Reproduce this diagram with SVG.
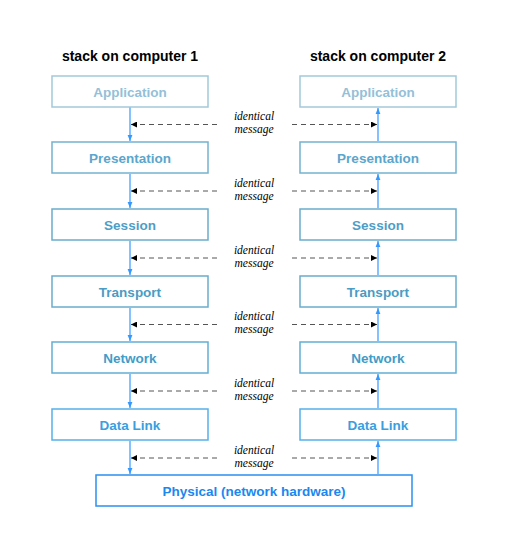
<svg xmlns="http://www.w3.org/2000/svg" width="508" height="558" viewBox="0 0 508 558">
<defs>
<style>
.title{font-family:"Liberation Sans",Arial,sans-serif;font-weight:bold;font-size:14px;fill:#000;text-anchor:middle}
.lbl{font-family:"Liberation Sans",Arial,sans-serif;font-weight:bold;font-size:13.5px;text-anchor:middle}
.box{fill:#fff;stroke-width:1.5}
.msg{font-family:"Liberation Serif","Times New Roman",serif;font-style:italic;font-size:11.5px;fill:#000;text-anchor:middle}
.flow{stroke:#3399ff;stroke-width:1.2;fill:none}
.dash{stroke:#555;stroke-width:1;stroke-dasharray:5,4;fill:none}
</style>
<marker id="blue" viewBox="0 0 10 10" refX="10" refY="5" markerWidth="6" markerHeight="8" orient="auto" markerUnits="userSpaceOnUse">
<path d="M0,1 L10,5 L0,9 z" fill="#3399ff"/>
</marker>
<marker id="blk" viewBox="0 0 10 10" refX="10" refY="5" markerWidth="10" markerHeight="6" orient="auto" markerUnits="userSpaceOnUse">
<path d="M0,0 L10,5 L0,10 z" fill="#000"/>
</marker>
</defs>
<rect width="508" height="558" fill="#fff"/>
<text class="title" x="130" y="61">stack on computer 1</text>
<text class="title" x="378" y="61">stack on computer 2</text>

<g id="connectors">
<path class="flow" d="M130,107 V141" marker-end="url(#blue)"/>
<path class="flow" d="M130,174 V208" marker-end="url(#blue)"/>
<path class="flow" d="M130,241 V275" marker-end="url(#blue)"/>
<path class="flow" d="M130,308 V341" marker-end="url(#blue)"/>
<path class="flow" d="M130,374 V408" marker-end="url(#blue)"/>
<path class="flow" d="M130,441 V474" marker-end="url(#blue)"/>
<path class="flow" d="M378,141 V108" marker-end="url(#blue)"/>
<path class="flow" d="M378,208 V174" marker-end="url(#blue)"/>
<path class="flow" d="M378,275 V241" marker-end="url(#blue)"/>
<path class="flow" d="M378,341 V308" marker-end="url(#blue)"/>
<path class="flow" d="M378,408 V374" marker-end="url(#blue)"/>
<path class="flow" d="M378,474 V441" marker-end="url(#blue)"/>
<g id="msgs">
<path class="dash" d="M217,124.5 H131" marker-end="url(#blk)"/>
<path class="dash" d="M292,124.5 H377" marker-end="url(#blk)"/>
<path class="dash" d="M217,191 H131" marker-end="url(#blk)"/>
<path class="dash" d="M292,191 H377" marker-end="url(#blk)"/>
<path class="dash" d="M217,258 H131" marker-end="url(#blk)"/>
<path class="dash" d="M292,258 H377" marker-end="url(#blk)"/>
<path class="dash" d="M217,324.5 H131" marker-end="url(#blk)"/>
<path class="dash" d="M292,324.5 H377" marker-end="url(#blk)"/>
<path class="dash" d="M217,391 H131" marker-end="url(#blk)"/>
<path class="dash" d="M292,391 H377" marker-end="url(#blk)"/>
<path class="dash" d="M217,458 H131" marker-end="url(#blk)"/>
<path class="dash" d="M292,458 H377" marker-end="url(#blk)"/>
</g>
<g id="msg-labels">
<text class="msg" x="254" y="120">identical</text><text class="msg" x="254" y="133">message</text>
<text class="msg" x="254" y="187">identical</text><text class="msg" x="254" y="200">message</text>
<text class="msg" x="254" y="254">identical</text><text class="msg" x="254" y="267">message</text>
<text class="msg" x="254" y="320">identical</text><text class="msg" x="254" y="333">message</text>
<text class="msg" x="254" y="387">identical</text><text class="msg" x="254" y="400">message</text>
<text class="msg" x="254" y="454">identical</text><text class="msg" x="254" y="467">message</text>
</g>
</g>

<g id="app1"><rect class="box" x="52" y="76" width="156" height="31" stroke="#a3c9da"/><text class="lbl" x="130" y="97" fill="#94c0d8">Application</text></g>
<g id="app2"><rect class="box" x="300" y="76" width="156" height="31" stroke="#a3c9da"/><text class="lbl" x="378" y="97" fill="#94c0d8">Application</text></g>
<g id="pres1"><rect class="box" x="52" y="142" width="156" height="31" stroke="#74b2d0"/><text class="lbl" x="130" y="163" fill="#5aa6cc">Presentation</text></g>
<g id="pres2"><rect class="box" x="300" y="142" width="156" height="31" stroke="#74b2d0"/><text class="lbl" x="378" y="163" fill="#5aa6cc">Presentation</text></g>
<g id="sess1"><rect class="box" x="52" y="209" width="156" height="31" stroke="#6aaccc"/><text class="lbl" x="130" y="230" fill="#4d9ec6">Session</text></g>
<g id="sess2"><rect class="box" x="300" y="209" width="156" height="31" stroke="#6aaccc"/><text class="lbl" x="378" y="230" fill="#4d9ec6">Session</text></g>
<g id="trans1"><rect class="box" x="52" y="276" width="156" height="31" stroke="#6aaccc"/><text class="lbl" x="130" y="297" fill="#4a9cc4">Transport</text></g>
<g id="trans2"><rect class="box" x="300" y="276" width="156" height="31" stroke="#6aaccc"/><text class="lbl" x="378" y="297" fill="#4a9cc4">Transport</text></g>
<g id="net1"><rect class="box" x="52" y="342" width="156" height="31" stroke="#62aed4"/><text class="lbl" x="130" y="363" fill="#429cc8">Network</text></g>
<g id="net2"><rect class="box" x="300" y="342" width="156" height="31" stroke="#62aed4"/><text class="lbl" x="378" y="363" fill="#429cc8">Network</text></g>
<g id="dl1"><rect class="box" x="52" y="409" width="156" height="31" stroke="#55b0ea"/><text class="lbl" x="130" y="430" fill="#3a9ee0">Data Link</text></g>
<g id="dl2"><rect class="box" x="300" y="409" width="156" height="31" stroke="#55b0ea"/><text class="lbl" x="378" y="430" fill="#3a9ee0">Data Link</text></g>
<g id="phys"><rect class="box" x="96" y="475" width="316" height="31" stroke="#2a90f0"/><text class="lbl" x="254" y="496" fill="#1a88f0">Physical (network hardware)</text></g>
</svg>
